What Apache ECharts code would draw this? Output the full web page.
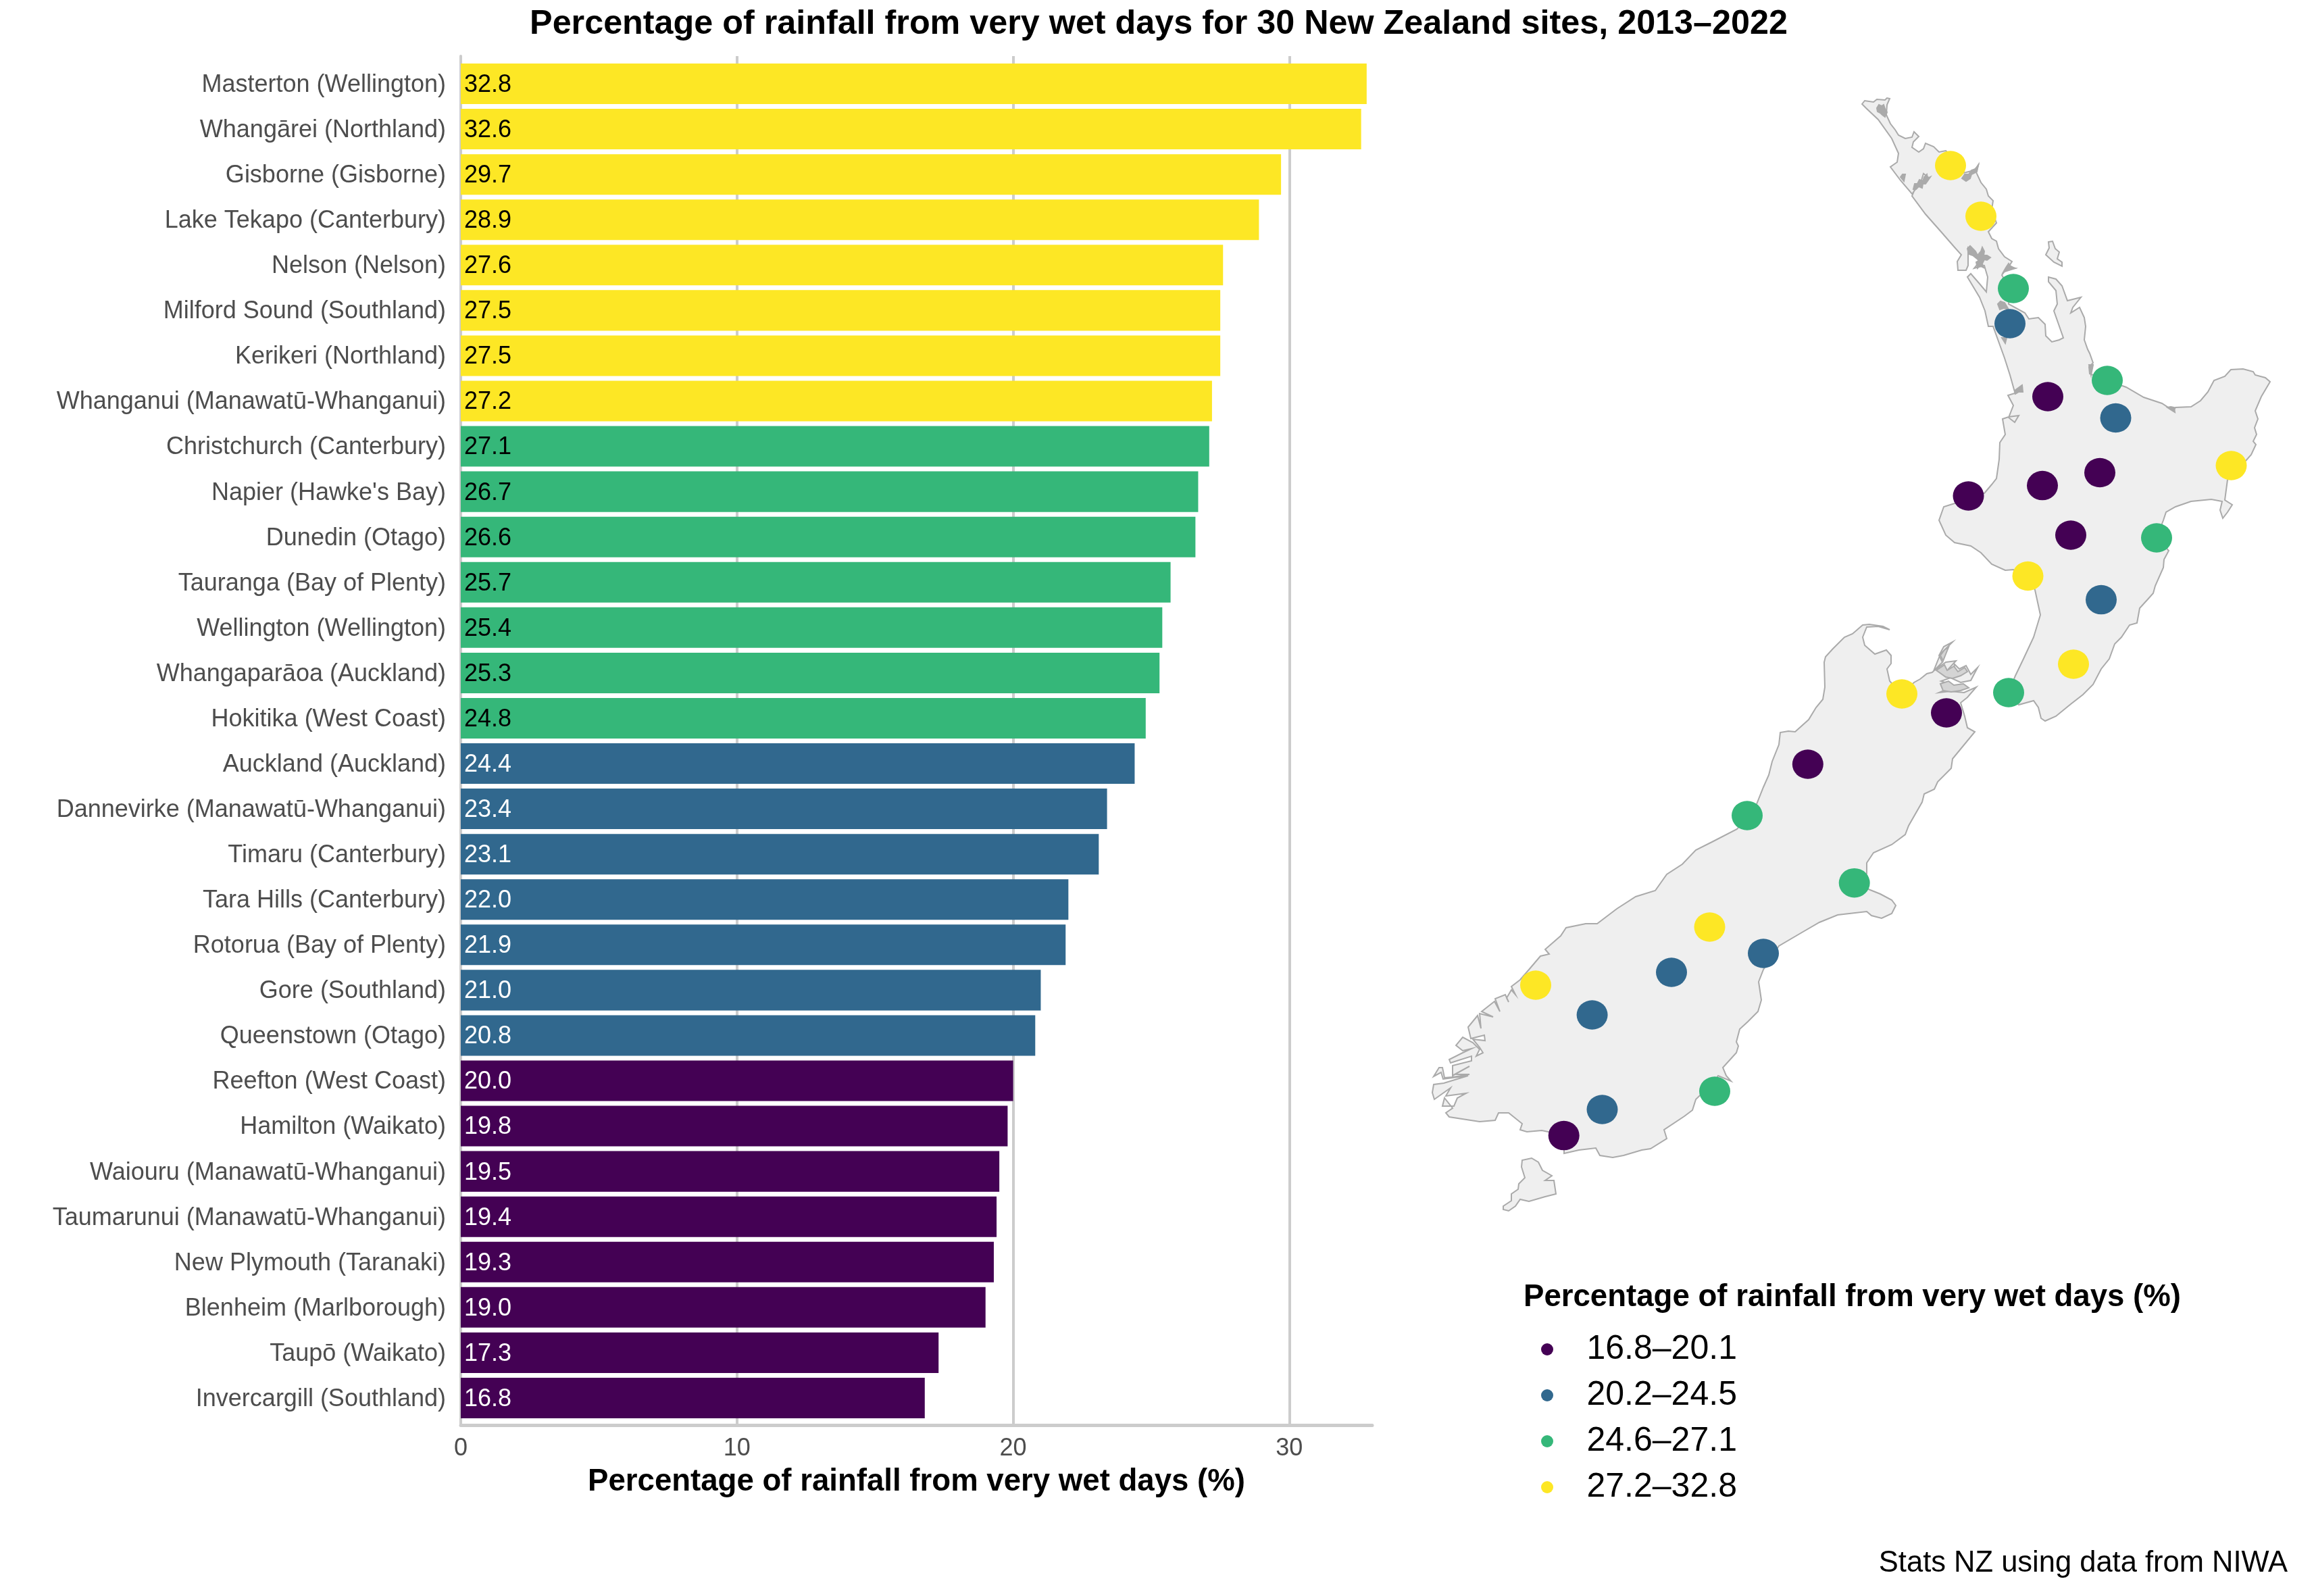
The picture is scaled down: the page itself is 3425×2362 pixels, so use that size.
<!DOCTYPE html>
<html>
<head>
<meta charset="utf-8">
<title>Very wet days</title>
<script src="https://cdn.jsdelivr.net/npm/echarts@6/dist/echarts.min.js"></script>
<style>
    html, body { margin: 0; padding: 0; background: #fff; }
    #main { width: 3425px; height: 2362px; }
</style>
</head>
<body>
<div id="main"></div>
<script>
    // ---- data ----
    const categories = [
        'Masterton (Wellington)', 'Whangārei (Northland)', 'Gisborne (Gisborne)', 'Lake Tekapo (Canterbury)',
        'Nelson (Nelson)', 'Milford Sound (Southland)', 'Kerikeri (Northland)', 'Whanganui (Manawatū-Whanganui)',
        'Christchurch (Canterbury)', "Napier (Hawke's Bay)", 'Dunedin (Otago)', 'Tauranga (Bay of Plenty)',
        'Wellington (Wellington)', 'Whangaparāoa (Auckland)', 'Hokitika (West Coast)', 'Auckland (Auckland)',
        'Dannevirke (Manawatū-Whanganui)', 'Timaru (Canterbury)', 'Tara Hills (Canterbury)', 'Rotorua (Bay of Plenty)',
        'Gore (Southland)', 'Queenstown (Otago)', 'Reefton (West Coast)', 'Hamilton (Waikato)',
        'Waiouru (Manawatū-Whanganui)', 'Taumarunui (Manawatū-Whanganui)', 'New Plymouth (Taranaki)',
        'Blenheim (Marlborough)', 'Taupō (Waikato)', 'Invercargill (Southland)'
    ];
    const values = [
        32.8, 32.6, 29.7, 28.9, 27.6, 27.5, 27.5, 27.2, 27.1, 26.7, 26.6, 25.7, 25.4, 25.3, 24.8,
        24.4, 23.4, 23.1, 22.0, 21.9, 21.0, 20.8, 20.0, 19.8, 19.5, 19.4, 19.3, 19.0, 17.3, 16.8
    ];
    // site positions in map units, same order as categories
    const siteEast = [
        3069, 2932, 3302.5, 2530.5, 2815, 2273, 2887, 3001.5, 2744.7, 3192, 2538, 3119, 2973, 2980, 2586,
        2975, 3110, 2610, 2474, 3131.5, 2371.5, 2356.6, 2675.8, 3031, 3065, 3023, 2913.5, 2881, 3108, 2314.7
    ];
    const siteSouth = [
        983, 320, 689, 1372, 1027, 1458, 245, 852.5, 1306.7, 796, 1615, 563, 1025, 427, 1207,
        479, 887.6, 1411, 1439, 618.5, 1642, 1502, 1131, 587, 792, 718.6, 734, 1055, 699.5, 1680.6
    ];
    const bandNames = ['16.8–20.1', '20.2–24.5', '24.6–27.1', '27.2–32.8'];
    const bandTops = [20.1, 24.5, 27.1, 32.8];
    const bandColors = ['#440154', '#31688e', '#35b779', '#fde725'];
    const bandLabelColors = ['#ffffff', '#ffffff', '#000000', '#000000'];

    // coastline, map units
    const northIsland = [
        [2756,154],[2760,149],[2773,151],[2778,147],[2790,148],[2793,145],[2797,146],[2793,155],[2792,170],[2798,183],
        [2805,192],[2810,200],[2820,205],[2830,203],[2833,195],[2840,202],[2832,210],[2830,218],[2840,225],[2847,220],
        [2850,212],[2862,217],[2870,225],[2880,223],[2887,230],[2900,257],[2910,255],[2922,252],[2928,245],[2925,255],
        [2932,270],[2940,280],[2943,290],[2950,297],[2948,310],[2955,330],[2943,343],[2948,353],[2955,357],[2958,368],
        [2967,380],[2978,387],[2973,395],[2983,397],[2967,402],[2963,407],[2975,428],[2973,450],[2997,463],[3003,472],
        [3017,470],[3027,480],[3028,497],[3037,506],[3048,503],[3054,500],[3047,480],[3040,460],[3045,450],[3043,430],
        [3032,417],[3032,410],[3043,413],[3052,423],[3060,445],[3080,440],[3068,455],[3065,463],[3078,455],[3085,470],
        [3087,483],[3085,503],[3090,517],[3093,523],[3098,537],[3092,543],[3093,553],[3119,563],[3147,573],[3173,588],
        [3200,597],[3217,608],[3220,603],[3243,602],[3257,593],[3268,580],[3277,563],[3293,557],[3302,547],[3320,546],
        [3335,550],[3338,555],[3353,559],[3360,565],[3347,587],[3338,608],[3342,620],[3337,633],[3340,643],[3335,653],
        [3339,658],[3332,673],[3323,683],[3297,710],[3293,740],[3304,747],[3297,758],[3290,767],[3286,755],[3289,742],
        [3273,739],[3243,742],[3220,750],[3206,758],[3202,770],[3192,796],[3210,815],[3203,828],[3202,840],[3190,867],
        [3187,878],[3178,888],[3167,900],[3163,922],[3152,925],[3140,943],[3130,953],[3122,975],[3110,990],[3098,1013],
        [3083,1028],[3065,1042],[3043,1060],[3027,1067],[3021,1063],[3017,1047],[3010,1037],[2988,1043],[2973,1025],
        [2983,1000],[2995,975],[3010,943],[3020,910],[3012,873],[3002,853],[2980,843],[2968,844],[2948,835],[2932,818],
        [2917,808],[2893,803],[2880,792],[2870,770],[2877,750],[2893,745],[2913,733],[2937,730],[2948,717],[2955,708],
        [2959,680],[2960,655],[2968,643],[2964,620],[2973,617],[2988,615],[2982,625],[2973,618],[2980,600],[2972,585],
        [2982,582],[2993,570],[2982,580],[2975,555],[2967,530],[2950,483],[2943,483],[2938,460],[2930,440],[2912,410],
        [2917,405],[2930,420],[2940,432],[2942,410],[2937,393],[2922,397],[2930,387],[2913,367],[2913,393],[2910,400],
        [2898,400],[2897,387],[2903,377],[2893,366],[2873,343],[2850,317],[2830,290],[2837,273],[2855,263],[2847,257],
        [2843,270],[2830,287],[2813,267],[2798,247],[2808,240],[2810,227],[2800,205],[2780,177],[2762,160]
    ];
    const southIsland = [
        [2797,932],[2787,927],[2767,924],[2757,925],[2742,938],[2730,943],[2713,960],[2702,972],[2700,980],[2701,1017],
        [2698,1035],[2688,1047],[2677,1065],[2657,1083],[2647,1082],[2635,1084],[2633,1102],[2623,1127],[2618,1147],
        [2610,1165],[2600,1190],[2571,1227],[2536,1245],[2510,1258],[2490,1279],[2467,1294],[2450,1318],[2421,1327],
        [2393,1345],[2364,1367],[2347,1367],[2318,1373],[2310,1385],[2287,1405],[2293,1412],[2280,1415],[2263,1435],
        [2250,1450],[2237,1460],[2243,1472],[2237,1465],[2230,1477],[2233,1483],[2228,1472],[2213,1478],[2220,1497],
        [2212,1482],[2193,1497],[2210,1505],[2190,1500],[2192,1522],[2187,1503],[2173,1520],[2177,1537],[2197,1532],
        [2198,1540],[2180,1538],[2190,1550],[2195,1558],[2185,1563],[2190,1553],[2180,1543],[2165,1535],[2155,1547],
        [2165,1555],[2178,1552],[2165,1558],[2145,1568],[2147,1573],[2178,1563],[2178,1570],[2150,1577],[2150,1592],
        [2175,1578],[2153,1590],[2175,1590],[2150,1594],[2138,1595],[2135,1580],[2130,1580],[2122,1593],[2133,1587],
        [2136,1597],[2173,1592],[2137,1603],[2122,1605],[2120,1617],[2123,1627],[2147,1610],[2140,1622],[2170,1618],
        [2157,1625],[2152,1637],[2135,1637],[2138,1625],[2150,1640],[2140,1647],[2145,1653],[2190,1660],[2213,1658],
        [2218,1647],[2233,1647],[2253,1663],[2250,1672],[2260,1675],[2282,1673],[2315,1680],[2315,1707],[2337,1702],
        [2362,1699],[2368,1710],[2387,1713],[2403,1710],[2430,1702],[2443,1700],[2467,1685],[2463,1672],[2493,1652],
        [2505,1643],[2510,1627],[2538,1600],[2543,1592],[2562,1600],[2555,1592],[2550,1580],[2570,1558],[2573,1548],
        [2570,1542],[2575,1523],[2587,1512],[2602,1497],[2607,1480],[2603,1453],[2610,1435],[2633,1400],[2667,1380],
        [2693,1365],[2720,1354],[2763,1349],[2770,1355],[2785,1359],[2800,1352],[2806,1340],[2800,1332],[2783,1323],
        [2768,1317],[2745,1307],[2763,1293],[2763,1277],[2773,1262],[2800,1250],[2820,1235],[2825,1222],[2845,1187],
        [2848,1175],[2863,1168],[2868,1157],[2888,1137],[2890,1123],[2923,1083],[2912,1077],[2908,1060],[2902,1040],
        [2912,1032],[2925,1017],[2907,1025],[2887,1023],[2870,1025],[2893,1015],[2873,1008],[2887,1003],[2902,1010],
        [2917,1007],[2927,988],[2917,998],[2910,985],[2900,990],[2893,983],[2890,997],[2884,990],[2895,978],[2880,980],
        [2862,993],[2872,968],[2890,950],[2877,957],[2870,970],[2875,980],[2860,995],[2852,997],[2842,1005],[2833,1010],
        [2815,1027],[2797,1008],[2793,990],[2799,982],[2799,970],[2792,962],[2775,968],[2760,955],[2757,943],[2763,928],
        [2780,927]
    ];
    const stewartIsland = [
        [2225,1790],[2225,1785],[2237,1777],[2237,1767],[2247,1760],[2248,1752],[2257,1743],[2252,1727],[2253,1717],
        [2267,1714],[2277,1720],[2283,1732],[2297,1740],[2287,1747],[2300,1747],[2303,1767],[2287,1771],[2263,1778],
        [2250,1775],[2243,1785],[2233,1792]
    ];
    const greatBarrier = [
        [3032,358],[3038,357],[3042,368],[3048,373],[3045,383],[3052,388],[3052,394],[3040,388],[3028,377],[3033,367]
    ];
    // the harbours are so crinkly in the picture they read as grey patches
    const harbours = [
        [[2778,160],[2781,155],[2785,157],[2788,155],[2790,161],[2793,166],[2790,173],[2786,170],[2783,167],[2779,165]],
        [[2832,280],[2834,272],[2838,272],[2841,266],[2846,268],[2848,262],[2852,258],[2853,264],[2857,262],[2853,268],
            [2850,272],[2846,272],[2845,278],[2840,276],[2836,280]],
        [[2904,264],[2908,258],[2914,258],[2918,252],[2924,250],[2928,244],[2926,254],[2922,256],[2918,258],[2916,264],[2910,268]],
        [[2813,262],[2816,258],[2820,258],[2818,268]],
        [[2912,368],[2916,364],[2920,368],[2924,372],[2927,378],[2932,372],[2934,366],[2937,372],[2936,378],[2941,378],
            [2946,381],[2941,385],[2937,384],[2934,390],[2936,396],[2930,393],[2927,397],[2925,388],[2930,385],[2925,382],
            [2920,378],[2914,376]],
        [[2965,403],[2969,396],[2973,390],[2976,394],[2982,397],[2974,398]],
        [[2957,450],[2961,446],[2967,448],[2970,453],[2973,458],[2966,456],[2960,458]],
        [[2963,500],[2970,500],[2968,508]],
        [[2982,578],[2986,575],[2993,570],[2994,580],[2988,580],[2983,583]],
        [[3208,603],[3213,602],[3218,603],[3219,610],[3214,607]],
        [[3092,540],[3098,540],[3095,555]]
    ];
    // Marlborough Sounds: mostly fine grey lines over land
    const sounds = [
        [[2872,970],[2878,962],[2884,958],[2880,968],[2876,978]],
        [[2866,992],[2878,984],[2882,992],[2892,986],[2898,994],[2908,988],[2912,994],[2902,1000],[2890,1004],[2880,1002]],
        [[2872,1012],[2884,1008],[2892,1014],[2906,1012],[2914,1018],[2902,1022],[2888,1024],[2876,1022]]
    ];

    // ---- helpers ----
    function bandOf(value) {
        for (let i = 0; i < bandTops.length; i++) {
            if (value <= bandTops[i]) {
                return i;
            }
        }
        return bandTops.length - 1;
    }

    function feature(name, ring) {
        return {
            type: 'Feature',
            properties: { name: name },
            geometry: { type: 'Polygon', coordinates: [ring] }
        };
    }

    let mapFeatures = [
        feature('North Island', northIsland),
        feature('South Island', southIsland),
        feature('Stewart Island', stewartIsland),
        feature('Great Barrier', greatBarrier)
    ];
    let harbourRegions = [];
    harbours.forEach((ring, i) => {
        mapFeatures.push(feature('harbour' + i, ring));
        harbourRegions.push({ name: 'harbour' + i, itemStyle: { areaColor: '#aaaaaa' } });
    });
    sounds.forEach((ring, i) => {
        mapFeatures.push(feature('sound' + i, ring));
        harbourRegions.push({ name: 'sound' + i, itemStyle: { areaColor: '#d4d4d4' } });
    });
    echarts.registerMap('nz', { type: 'FeatureCollection', features: mapFeatures });

    let barData = values.map((v) => {
        let band = bandOf(v);
        return {
            value: v,
            itemStyle: { color: bandColors[band] },
            label: { color: bandLabelColors[band] }
        };
    });

    let mapSeries = bandNames.map((name, b) => {
        let points = [];
        values.forEach((v, i) => {
            if (bandOf(v) === b) {
                points.push([siteEast[i], siteSouth[i]]);
            }
        });
        return {
            type: 'scatter',
            name: name,
            coordinateSystem: 'geo',
            geoIndex: 0,
            symbol: 'circle',
            symbolSize: [46, 43.5],
            itemStyle: { color: bandColors[b], opacity: 1 },
            data: points,
            z: 5
        };
    });

    const FONT = '"Liberation Sans", Arial, sans-serif';
    const AXIS_COLOR = '#cccccc';
    const LABEL_COLOR = '#4d4d4d';

    let chart = echarts.init(document.getElementById('main'), null, { renderer: 'canvas' });
    chart.setOption({
        animation: false,
        backgroundColor: '#ffffff',
        textStyle: { fontFamily: FONT },
        title: [
            {
                text: 'Percentage of rainfall from very wet days for 30 New Zealand sites, 2013–2022',
                left: 1710, top: 6, textAlign: 'center',
                textStyle: { fontFamily: FONT, fontSize: 50.3, fontWeight: 'bold', color: '#000' }
            },
            {
                text: 'Percentage of rainfall from very wet days (%)',
                left: 2250, top: 1892,
                textStyle: { fontFamily: FONT, fontSize: 45.6, fontWeight: 'bold', color: '#000' }
            },
            {
                text: 'Stats NZ using data from NIWA',
                right: 34, top: 2287,
                textStyle: { fontFamily: FONT, fontSize: 43.5, fontWeight: 'normal', color: '#000' }
            }
        ],
        legend: {
            orient: 'vertical',
            left: 2276,
            top: 1967,
            icon: 'circle',
            itemWidth: 19,
            itemHeight: 18,
            itemGap: 18,
            selectedMode: false,
            data: bandNames,
            textStyle: { fontFamily: FONT, fontSize: 50, color: '#000', padding: [0, 0, 0, 44] }
        },
        // grid 0 carries the axes, grid 1 the bars: the axes run a little past the bars
        grid: [
            { left: 682, top: 83, width: 1349, height: 2026, containLabel: false },
            { left: 682, top: 90.5, width: 1349, height: 2012, containLabel: false }
        ],
        xAxis: [
            {
                gridIndex: 0,
                type: 'value',
                min: 0,
                max: 33,
                interval: 10,
                name: 'Percentage of rainfall from very wet days (%)',
                nameLocation: 'center',
                nameGap: 61,
                nameTextStyle: { fontFamily: FONT, fontSize: 45.6, fontWeight: 'bold', color: '#000' },
                axisLine: { show: true, lineStyle: { color: AXIS_COLOR, width: 5 } },
                axisTick: { show: false },
                axisLabel: {
                    show: true,
                    showMaxLabel: false,
                    margin: 17,
                    fontFamily: FONT,
                    fontSize: 36,
                    color: LABEL_COLOR
                },
                splitLine: { show: true, showMinLine: false, showMaxLine: false, lineStyle: { color: AXIS_COLOR, width: 4 } }
            },
            {
                gridIndex: 1,
                type: 'value',
                min: 0,
                max: 33,
                show: false
            }
        ],
        yAxis: [
            {
                gridIndex: 0,
                type: 'value',
                min: 0,
                max: 1,
                axisLine: { show: true, lineStyle: { color: AXIS_COLOR, width: 4 } },
                axisTick: { show: false },
                axisLabel: { show: false },
                splitLine: { show: false }
            },
            {
                gridIndex: 1,
                type: 'category',
                inverse: true,
                data: categories,
                axisLine: { show: false },
                axisTick: { show: false },
                axisLabel: {
                    interval: 0,
                    margin: 22,
                    // top-aligned with a tiny line box: nudges the text 2px below the band centre
                    verticalAlign: 'top',
                    lineHeight: 4,
                    fontFamily: FONT,
                    fontSize: 36,
                    color: LABEL_COLOR
                }
            }
        ],
        // map units are picked so the whole page is the bounding box
        geo: {
            map: 'nz',
            projection: {
                project: (p) => p,
                unproject: (p) => p
            },
            boundingCoords: [[0, 0], [3425, 2362]],
            left: 0,
            top: 0,
            width: 3425,
            height: 2362,
            roam: false,
            silent: true,
            itemStyle: { areaColor: '#efefef', borderColor: '#aaaaaa', borderWidth: 2 },
            label: { show: false },
            regions: harbourRegions
        },
        series: [
            {
                type: 'bar',
                xAxisIndex: 1,
                yAxisIndex: 1,
                barWidth: '89.5%',
                data: barData,
                silent: true,
                label: {
                    show: true,
                    position: 'insideLeft',
                    distance: 5,
                    offset: [0, 2],
                    fontFamily: FONT,
                    fontSize: 36,
                    formatter: (p) => p.value.toFixed(1)
                },
                z: 3
            }
        ].concat(mapSeries)
    });
</script>
</body>
</html>
